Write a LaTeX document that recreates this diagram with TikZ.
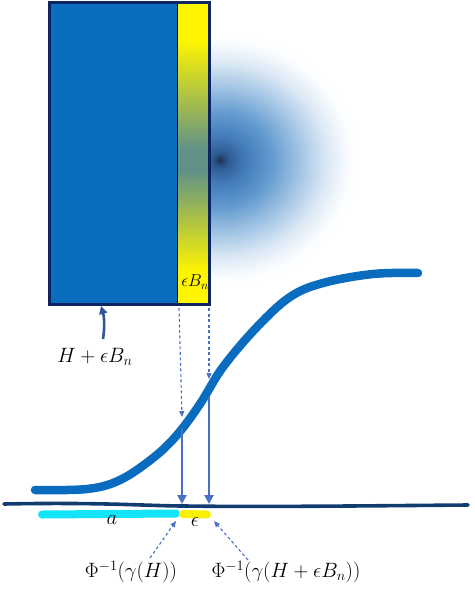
\documentclass[tikz,border=0pt]{standalone}
\usetikzlibrary{arrows.meta}
\definecolor{rectblue}{RGB}{10,110,192}
\definecolor{navy}{RGB}{12,36,96}
\definecolor{curveblue}{RGB}{10,108,190}
\definecolor{axisnavy}{RGB}{18,60,110}
\definecolor{arrowblue}{RGB}{72,112,196}
\definecolor{darkarrow}{RGB}{46,85,151}
\definecolor{cyanbar}{RGB}{20,228,248}
\definecolor{yellowbar}{RGB}{250,240,0}
\definecolor{stripyellow}{RGB}{255,245,0}
\definecolor{stripmid}{RGB}{95,145,135}
\pgfdeclareradialshading{blobsh}{\pgfpoint{0bp}{0bp}}{rgb(0bp)=(0.11,0.20,0.32); rgb(1.5bp)=(0.18,0.36,0.58); rgb(4.5bp)=(0.26,0.48,0.73); rgb(9bp)=(0.38,0.60,0.81); rgb(14bp)=(0.62,0.76,0.89); rgb(19bp)=(0.86,0.91,0.96); rgb(23bp)=(0.98,0.99,1); rgb(25bp)=(1,1,1); rgb(50bp)=(1,1,1)}
\tikzset{
  lab/.style={inner sep=0pt, font=\fontsize{20}{23}\selectfont},
  biglab/.style={inner sep=0pt, font=\fontsize{22.5}{26}\selectfont},
  dasharrow/.style={arrowblue, line width=1.1pt, dash pattern=on 3pt off 2.5pt, -{Triangle[length=6pt,width=5pt]}},
  solidarrow/.style={arrowblue, line width=2.6pt, -{Triangle[length=9pt,width=9pt]}},
}
\begin{document}
\begin{tikzpicture}[x=1pt,y=-1pt]
\useasboundingbox (0,0) rectangle (474,593);
% blob to the right of the box
\begin{scope}
  \clip (209,0) rectangle (474,593);
  \shade[shading=blobsh] (220,160) ellipse (140 and 128);
\end{scope}
% box
\fill[rectblue] (49,3) rectangle (177,304);
\fill[stripyellow] (177,3) rectangle (209,40);
\shade[top color=stripyellow, bottom color=stripmid] (177,40) rectangle (209,150);
\fill[stripmid] (177,150) rectangle (209,170);
\shade[top color=stripmid, bottom color=stripyellow] (177,170) rectangle (209,272);
\fill[stripyellow] (177,272) rectangle (209,304);
\draw[black, line width=0.9pt] (177,3) -- (177,304);
\draw[navy, line width=3pt] (49,3) rectangle (209,304);
\node[inner sep=0pt, font=\fontsize{18.5}{21}\selectfont] (eb) at (195,282) {$\epsilon B_n$};
% small curved arrow and label
\coordinate (hb) at (101,306);
\coordinate (ht) at (103,339);
\draw[darkarrow, line width=2.6pt, -{Triangle[length=8pt,width=8pt]}] (ht) .. controls (105,326) and (104,316) .. (hb);
\node[lab] (hl) at (95,357) {$H+\epsilon B_n$};
% sigmoid
\draw[curveblue, line width=8.5pt, line cap=round] plot[smooth, tension=0.6] coordinates {(35,490) (87,489) (120,480) (153,458) (177,435) (200,404) (223,367) (257,327) (290,297) (323,283) (373,274) (418,273)};
% dashed vertical arrows
\coordinate (d1s) at (179,308); \coordinate (d1e) at (182,417);
\coordinate (d2s) at (209,308); \coordinate (d2e) at (209,379);
\draw[dasharrow] (d1s) -- (d1e);
\draw[dasharrow] (d2s) -- (d2e);
% solid vertical arrows
\coordinate (s1s) at (182,428); \coordinate (s1e) at (182,504);
\coordinate (s2s) at (209,397); \coordinate (s2e) at (209,504);
% axis
\draw[axisnavy, line width=3.6pt, line cap=round] (4,504) .. controls (100,502) and (150,506) .. (185,506) .. controls (260,507) and (350,506) .. (468,505);
\draw[solidarrow] (s1s) -- (s1e);
\draw[solidarrow] (s2s) -- (s2e);
% bars
\draw[cyanbar, line width=8pt, line cap=round] (42,514.5) -- (176,513.5);
\draw[yellowbar, line width=8pt, line cap=round] (183,514) -- (207,514.5);
\node[lab] (a) at (112,520) {$a$};
\node[lab] (e) at (195,522) {$\epsilon$};
% bottom labels
\node[biglab] (p1) at (131,572) {$\Phi^{-1}(\gamma(H))$};
\node[biglab] (p2) at (286,572) {$\Phi^{-1}(\gamma(H+\epsilon B_n))$};
\coordinate (b1) at (176,521);
\coordinate (b2) at (214,521);
\draw[dasharrow] (150,558) -- (b1);
\draw[dasharrow] (248,560) -- (b2);
\end{tikzpicture}
\end{document}
